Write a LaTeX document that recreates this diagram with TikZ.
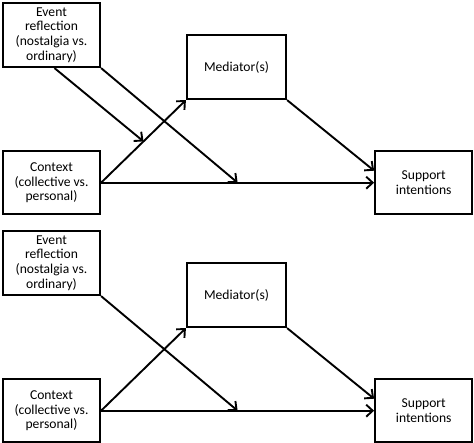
\documentclass[tikz,border=0pt]{standalone}
\usepackage{fontspec}
\setmainfont{Carlito}
\usetikzlibrary{positioning,calc,arrows.meta}

\begin{document}
\begin{tikzpicture}[
				x=1pt, y=1pt,
				box/.style={rectangle, draw=black, line width=2.2pt, align=center, minimum width=97pt, minimum height=64pt, inner sep=2pt, font=\fontsize{13.6}{14.6}\selectfont},
				link/.style={line width=1.9pt, -{Straight Barb[length=6.5pt,width=12pt,line width=1.9pt]}}
			]
			\useasboundingbox (0,0) rectangle (474,-443);
			% upper panel
			\node[box] (event1) at (51.5,-35) {Event\\reflection\\(nostalgia vs.\\ordinary)};
			\node[box, minimum width=99pt] (med1) at (236.5,-67) {Mediator(s)};
			\node[box, minimum height=63pt] (ctx1) [below=82pt of event1] {Context\\(collective vs.\\personal)};
			\node[box, minimum height=63pt] (sup1) [right=273pt of ctx1] {Support\\intentions};
			\coordinate (mid1) at ($(ctx1.east)!0.5!(med1.south west)$);
			\coordinate (dir1) at ($(ctx1.east)!0.5!(sup1.west)$);
			\begin{scope}[link]
			\draw (ctx1.east) -- (med1.south west);
			\draw (ctx1.east) -- (sup1.west);
			\draw (med1.south east) -- ([yshift=12pt]sup1.west);
			\draw ([xshift=3pt]event1.south) -- (mid1);
			\draw (event1.south east) -- (dir1);
			\end{scope}
			% lower panel
			\node[box] (event2) at (51.5,-263) {Event\\reflection\\(nostalgia vs.\\ordinary)};
			\node[box, minimum width=99pt] (med2) at (236.5,-295) {Mediator(s)};
			\node[box, minimum height=63pt] (ctx2) [below=82pt of event2] {Context\\(collective vs.\\personal)};
			\node[box, minimum height=63pt] (sup2) [right=273pt of ctx2] {Support\\intentions};
			\coordinate (dir2) at ($(ctx2.east)!0.5!(sup2.west)$);
			\begin{scope}[link]
			\draw (ctx2.east) -- (med2.south west);
			\draw (ctx2.east) -- (sup2.west);
			\draw (med2.south east) -- ([yshift=12pt]sup2.west);
			\draw (event2.south east) -- (dir2);
			\end{scope}
\end{tikzpicture}
\end{document}
